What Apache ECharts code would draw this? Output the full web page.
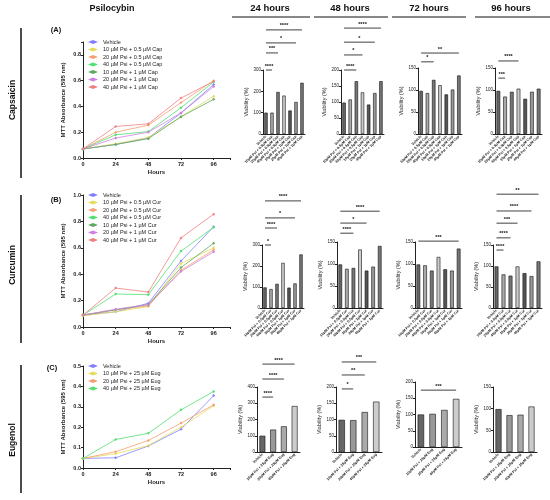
<!DOCTYPE html><html><head><meta charset="utf-8">
<script src="https://cdn.jsdelivr.net/npm/echarts@6/dist/echarts.min.js"></script>
<style>body{margin:0;background:#fff}#c{width:550px;height:500px}</style></head><body><div id="c"></div>
<script>
const hours=[0,24,48,72,96];
const capNames=['Vehicle','10 µM Psi + 0.5 µM Cap','20 µM Psi + 0.5 µM Cap','40 µM Psi + 0.5 µM Cap','10 µM Psi + 1 µM Cap','20 µM Psi + 1 µM Cap','40 µM Psi + 1 µM Cap'];
const curNames=['Vehicle ','10 µM Psi + 0.5 µM Cur','20 µM Psi + 0.5 µM Cur','40 µM Psi + 0.5 µM Cur','10 µM Psi + 1 µM Cur','20 µM Psi + 1 µM Cur','40 µM Psi + 1 µM Cur'];
const eugNames=['Vehicle  ','10 µM Psi + 25 µM Eug','20 µM Psi + 25 µM Eug','40 µM Psi + 25 µM Eug'];
const capLines=[[.07,.105,.155,.35,.57],[.07,.11,.16,.32,.48],[.07,.20,.255,.43,.60],[.07,.18,.205,.39,.59],[.07,.105,.15,.32,.455],[.07,.155,.20,.35,.555],[.07,.245,.265,.465,.595]];
const curLines=[[.09,.115,.18,.50,.76],[.085,.115,.155,.48,.60],[.09,.13,.16,.43,.585],[.09,.25,.245,.575,.755],[.09,.13,.17,.45,.635],[.09,.135,.17,.42,.57],[.09,.295,.265,.675,.855]];
const eugLines=[[.047,.05,.108,.19,.355],[.047,.07,.11,.20,.305],[.047,.08,.135,.22,.31],[.047,.14,.17,.285,.375]];
const lineColors=['#8080ff','#e6dc5a','#f5a070','#50e070','#5fa860','#d080e0','#f08080'];
const eugColors=['#8080ff','#e6dc5a','#f5a070','#50e070'];
const capCats=['Vehicle','10μM Psi + 0.5μM Cap','20μM Psi + 0.5μM Cap','40μM Psi + 0.5μM Cap','10μM Psi + 1μM Cap','20μM Psi + 1μM Cap','40μM Psi + 1μM Cap'];
const curCats=['Vehicle','10μM Psi + 0.5μM Cur','20μM Psi + 0.5μM Cur','40μM Psi + 0.5μM Cur','10μM Psi + 1μM Cur','20μM Psi + 1μM Cur','40μM Psi + 1μM Cur'];
const eugCats=['Vehicle','10μM Psi + 25μM Eug','20μM Psi + 25μM Eug','40μM Psi + 25μM Eug'];
const capV24=[100,100,197,180,110,150,240], capV48=[98,108,165,130,92,128,165], capV72=[98,93,123,111,90,101,133], capV96=[98,85,96,103,80,96,103];
const curV24=[98,90,115,215,97,117,255], curV48=[99,89,91,133,85,94,141], curV72=[99,97,85,116,88,85,135], curV96=[99,80,77,99,83,76,111];
const eugV24=[100,138,158,283], eugV48=[99,98,123,155], eugV72=[100,102,114,148], eugV96=[99,85,86,105];
// significance: [toIndex, yValue, label]
const sigA24=[[1,300,'****'],[2,380,'***'],[5,427,'*'],[6,488,'****']];
const sigA48=[[2,200,'****'],[3,247,'*'],[5,287,'*'],[6,331,'****']];
const sigA72=[[2,164,'*'],[6,184,'**']];
const sigA96=[[1,127,'***'],[3,166,'****']];
const sigB24=[[1,300,'*'],[2,381,'****'],[5,429,'*'],[6,510,'****']];
const sigB48=[[2,170,'****'],[4,193,'*'],[6,220,'****']];
const sigB72=[[6,152,'***']];
const sigB96=[[1,138,'****'],[2,167,'****'],[3,202,'***'],[5,231,'****'],[6,271,'**']];
const sigC24=[[1,338,'****'],[2,449,'****'],[3,541,'****']];
const sigC48=[[1,194,'*'],[2,237,'**'],[3,277,'***']];
const sigC72=[[3,175,'***']];
const sigC96=[];
const barCols7=['#666','#aaa','#777','#ccc','#555','#999','#777'];
const barCols4=['#666','#999','#aaa','#ccc'];

const grid=[],xAxis=[],yAxis=[],series=[],legend=[],graphic=[];
const tf={fontFamily:'Liberation Sans',color:'#222'};
function lineChart(names,lines,cols,g,ymax,step,lblMax){
  const i=grid.length;grid.push(g);
  xAxis.push({gridIndex:i,type:'value',min:0,max:108,interval:24,name:'Hours',nameLocation:'middle',nameGap:11,nameTextStyle:{...tf,fontSize:6,fontWeight:'bold'},axisLine:{lineStyle:{color:'#222'}},axisTick:{length:2},axisLabel:{...tf,fontSize:5.5,fontWeight:'bold',margin:3,formatter:v=>v>96?'':v},splitLine:{show:false}});
  yAxis.push({gridIndex:i,type:'value',min:0,max:ymax,interval:step,name:'MTT Absorbance (595 nm)',nameLocation:'middle',nameGap:17,nameTextStyle:{...tf,fontSize:6,fontWeight:'bold'},axisLine:{show:true,lineStyle:{color:'#222'}},axisTick:{show:true,length:2},axisLabel:{...tf,fontSize:5.5,fontWeight:'bold',margin:2,formatter:v=>v>lblMax+1e-6?'':v.toFixed(1)},splitLine:{show:false}});
  names.forEach((n,k)=>series.push({type:'line',name:n,xAxisIndex:i,yAxisIndex:i,data:hours.map((h,j)=>[h,lines[k][j]]),symbol:'diamond',symbolSize:3,lineStyle:{width:0.8,color:cols[k]},itemStyle:{color:cols[k]},z:2+k}));
  legend.push({data:names,orient:'vertical',left:g.left+5,top:g.top-3,itemWidth:10,itemHeight:4,itemGap:1.5,icon:'diamond',textStyle:{...tf,fontSize:5.5},padding:0});
}
function barChart(cats,vals,cols,sig,g,max,step){
  const i=grid.length;grid.push(g);
  xAxis.push({gridIndex:i,type:'category',data:cats,axisLine:{lineStyle:{color:'#222'}},axisTick:{length:2,alignWithLabel:true},axisLabel:{...tf,fontSize:3.6,fontWeight:'bold',rotate:45,margin:2,interval:0}});
  yAxis.push({gridIndex:i,type:'value',min:0,max:max,interval:step,name:'Viability (%)',nameLocation:'middle',nameGap:12,nameTextStyle:{...tf,fontSize:5.5},axisLine:{show:true,lineStyle:{color:'#222'}},axisTick:{show:true,length:2},axisLabel:{...tf,fontSize:4.5,margin:2},splitLine:{show:false}});
  series.push({type:'bar',xAxisIndex:i,yAxisIndex:i,barWidth:'55%',data:vals.map((v,k)=>({value:v,itemStyle:{color:cols[k]}})),itemStyle:{borderColor:'#111',borderWidth:0.6}});
  if(sig.length) series.push({type:'custom',xAxisIndex:i,yAxisIndex:i,clip:false,silent:true,data:sig.map(s=>[0,s[0],s[1]]),
    encode:{x:[0,1],y:2},
    renderItem:(p,api)=>{const a=api.coord([api.value(0),api.value(2)]),b=api.coord([api.value(1),api.value(2)]);
      return {type:'group',children:[{type:'line',shape:{x1:a[0],y1:a[1],x2:b[0],y2:b[1]},style:{stroke:'#111',lineWidth:0.8}},
        {type:'text',x:(a[0]+b[0])/2,y:a[1]-1,style:{text:sig[p.dataIndex][2],fontSize:5.5,fontWeight:'bold',fill:'#111',textAlign:'center',textVerticalAlign:'bottom'}}]};}});
}
lineChart(capNames,capLines,lineColors,{left:83,top:42,width:147,height:116},0.9,0.2,0.8);
lineChart(curNames,curLines,lineColors,{left:83,top:195,width:147,height:132},1.0,0.2,1.0);
lineChart(eugNames,eugLines,eugColors,{left:83,top:366,width:147,height:102},0.5,0.1,0.5);
barChart(capCats,capV24,barCols7,sigA24,{left:263,top:70,width:42,height:64},300,100);
barChart(capCats,capV48,barCols7,sigA48,{left:341,top:70,width:43,height:64},200,50);
barChart(capCats,capV72,barCols7,sigA72,{left:418,top:68,width:44,height:66},150,50);
barChart(capCats,capV96,barCols7,sigA96,{left:495,top:68,width:47,height:66},150,50);
barChart(curCats,curV24,barCols7,sigB24,{left:262,top:245,width:42,height:63},300,100);
barChart(curCats,curV48,barCols7,sigB48,{left:337,top:242,width:46,height:66},150,50);
barChart(curCats,curV72,barCols7,sigB72,{left:415,top:242,width:47,height:66},150,50);
barChart(curCats,curV96,barCols7,sigB96,{left:493,top:245,width:49,height:63},150,50);
barChart(eugCats,eugV24,barCols4,sigC24,{left:257,top:387,width:43,height:65},400,100);
barChart(eugCats,eugV48,barCols4,sigC48,{left:336,top:387,width:46,height:65},200,50);
barChart(eugCats,eugV72,barCols4,sigC72,{left:415,top:382,width:47,height:65},200,50);
barChart(eugCats,eugV96,barCols4,sigC96,{left:493,top:387,width:44,height:65},150,50);
const hdr=(t,x,y,s)=>graphic.push({type:'text',x,y,style:{text:t,...tf,fill:'#111',fontSize:s,fontWeight:'bold',textAlign:'center'}});
hdr('Psilocybin',112,4,9);
[['24 hours',270,232,310],['48 hours',350,314,388],['72 hours',429,392,466],['96 hours',511,475,550]].forEach(h=>{hdr(h[0],h[1],3,9.5);graphic.push({type:'line',shape:{x1:h[2],y1:17,x2:h[3],y2:17},style:{stroke:'#111',lineWidth:1.2}});});
[['Capsaicin',100,28,178],['Curcumin',265,195,343],['Eugenol',440,365,493]].forEach(r=>{graphic.push({type:'text',x:13,y:r[1],rotation:Math.PI/2,style:{text:r[0],...tf,fill:'#111',fontSize:8.5,fontWeight:'bold',textAlign:'center',textVerticalAlign:'middle'}});graphic.push({type:'line',shape:{x1:21,y1:r[2],x2:21,y2:r[3]},style:{stroke:'#111',lineWidth:1.5}});});
[['(A)',56,26],['(B)',56,196],['(C)',52,364]].forEach(p=>graphic.push({type:'text',x:p[1],y:p[2],style:{text:p[0],...tf,fill:'#111',fontSize:7.5,fontWeight:'bold',textAlign:'center'}}));
const ch=echarts.init(document.getElementById('c'));
ch.setOption({animation:false,grid,xAxis,yAxis,series,legend,graphic});
</script></body></html>
